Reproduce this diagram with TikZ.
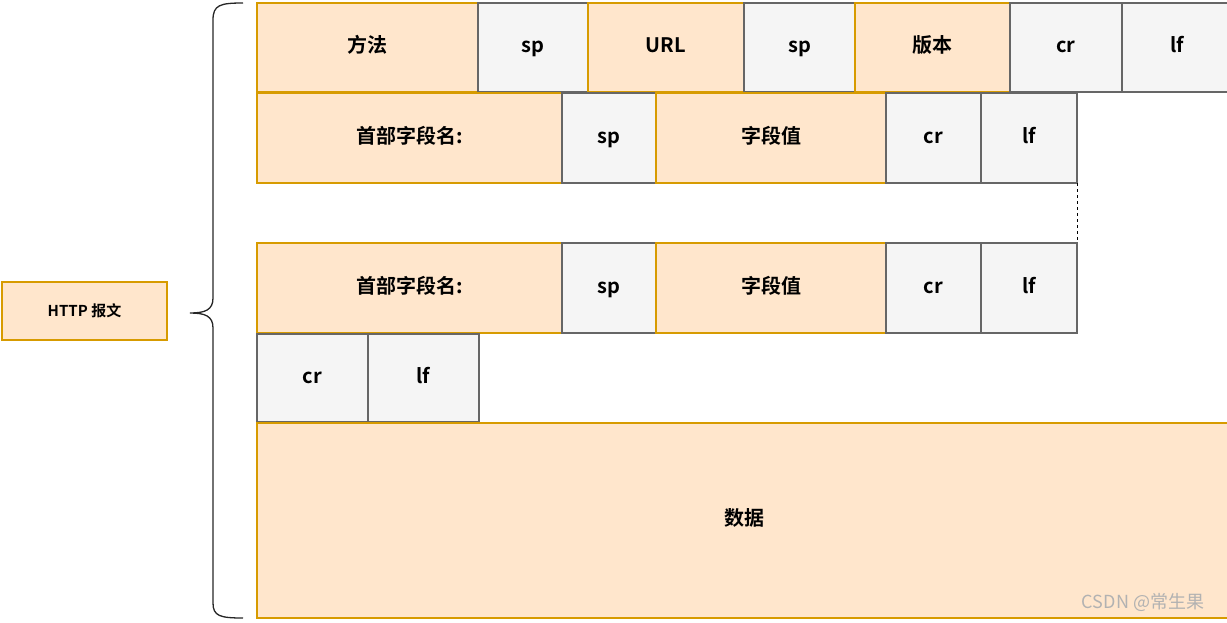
\documentclass[tikz,border=0pt]{standalone}
\usepackage{fontspec}
\setmainfont{Noto Sans CJK SC}[BoldFont={Noto Sans CJK SC Bold}]
\definecolor{obd}{HTML}{D79B00}
\definecolor{obf}{HTML}{FFE6CC}
\begin{document}
\begin{tikzpicture}[x=1pt,y=-1pt,
  ob/.style={draw=obd,fill=obf,line width=1.8pt},
  gb/.style={draw=black!60,fill=black!4,line width=1.8pt},
  tx/.style={font=\bfseries\fontsize{20}{24}\selectfont,text height=14pt,text depth=4pt}]
\useasboundingbox (0,0) rectangle (1227,622);
\newcommand{\bx}[6]{\draw[#1] (#2,#3) rectangle (#4,#5); \node[tx] at ({(#2+#4)/2},{(#3+#5)/2}) {#6};}
% row 1
\bx{ob}{257}{3}{478}{92}{方法}
\bx{gb}{478}{3}{588}{92}{sp}
\bx{ob}{588}{3}{744}{92}{URL}
\bx{gb}{744}{3}{855}{92}{sp}
\bx{ob}{855}{3}{1010}{92}{版本}
\bx{gb}{1010}{3}{1122}{92}{cr}
\bx{gb}{1122}{3}{1232}{92}{lf}
% row 2
\bx{ob}{257}{93}{562}{183}{首部字段名:}
\bx{gb}{562}{93}{656}{183}{sp}
\bx{ob}{656}{93}{886}{183}{字段值}
\bx{gb}{886}{93}{981}{183}{cr}
\bx{gb}{981}{93}{1077}{183}{lf}
\draw[dashed,line width=0.8pt] (1077,183) -- (1077,243);
% row 3
\bx{ob}{257}{243}{562}{333}{首部字段名:}
\bx{gb}{562}{243}{656}{333}{sp}
\bx{ob}{656}{243}{886}{333}{字段值}
\bx{gb}{886}{243}{981}{333}{cr}
\bx{gb}{981}{243}{1077}{333}{lf}
% row 4
\bx{gb}{257}{334}{368}{422}{cr}
\bx{gb}{368}{334}{479}{422}{lf}
% data
\bx{ob}{257}{423}{1232}{618}{数据}
% label
\draw[ob] (2,282) rectangle (167,340);
\node[font=\bfseries\fontsize{15}{18}\selectfont] (lbl) at (84.5,311) {HTTP 报文};
% brace
\draw[line width=1.3pt,black!85] (243,3) .. controls (220,3) and (213,5) .. (213,20)
  -- (213,298) .. controls (213,310) and (205,313) .. (190,313)
  .. controls (205,313) and (213,316) .. (213,328)
  -- (213,603) .. controls (213,616) and (220,618) .. (243,618);
\node[font=\fontsize{18}{21}\selectfont,text=black!30] at (1143,602) {CSDN @常生果};
\end{tikzpicture}
\end{document}
